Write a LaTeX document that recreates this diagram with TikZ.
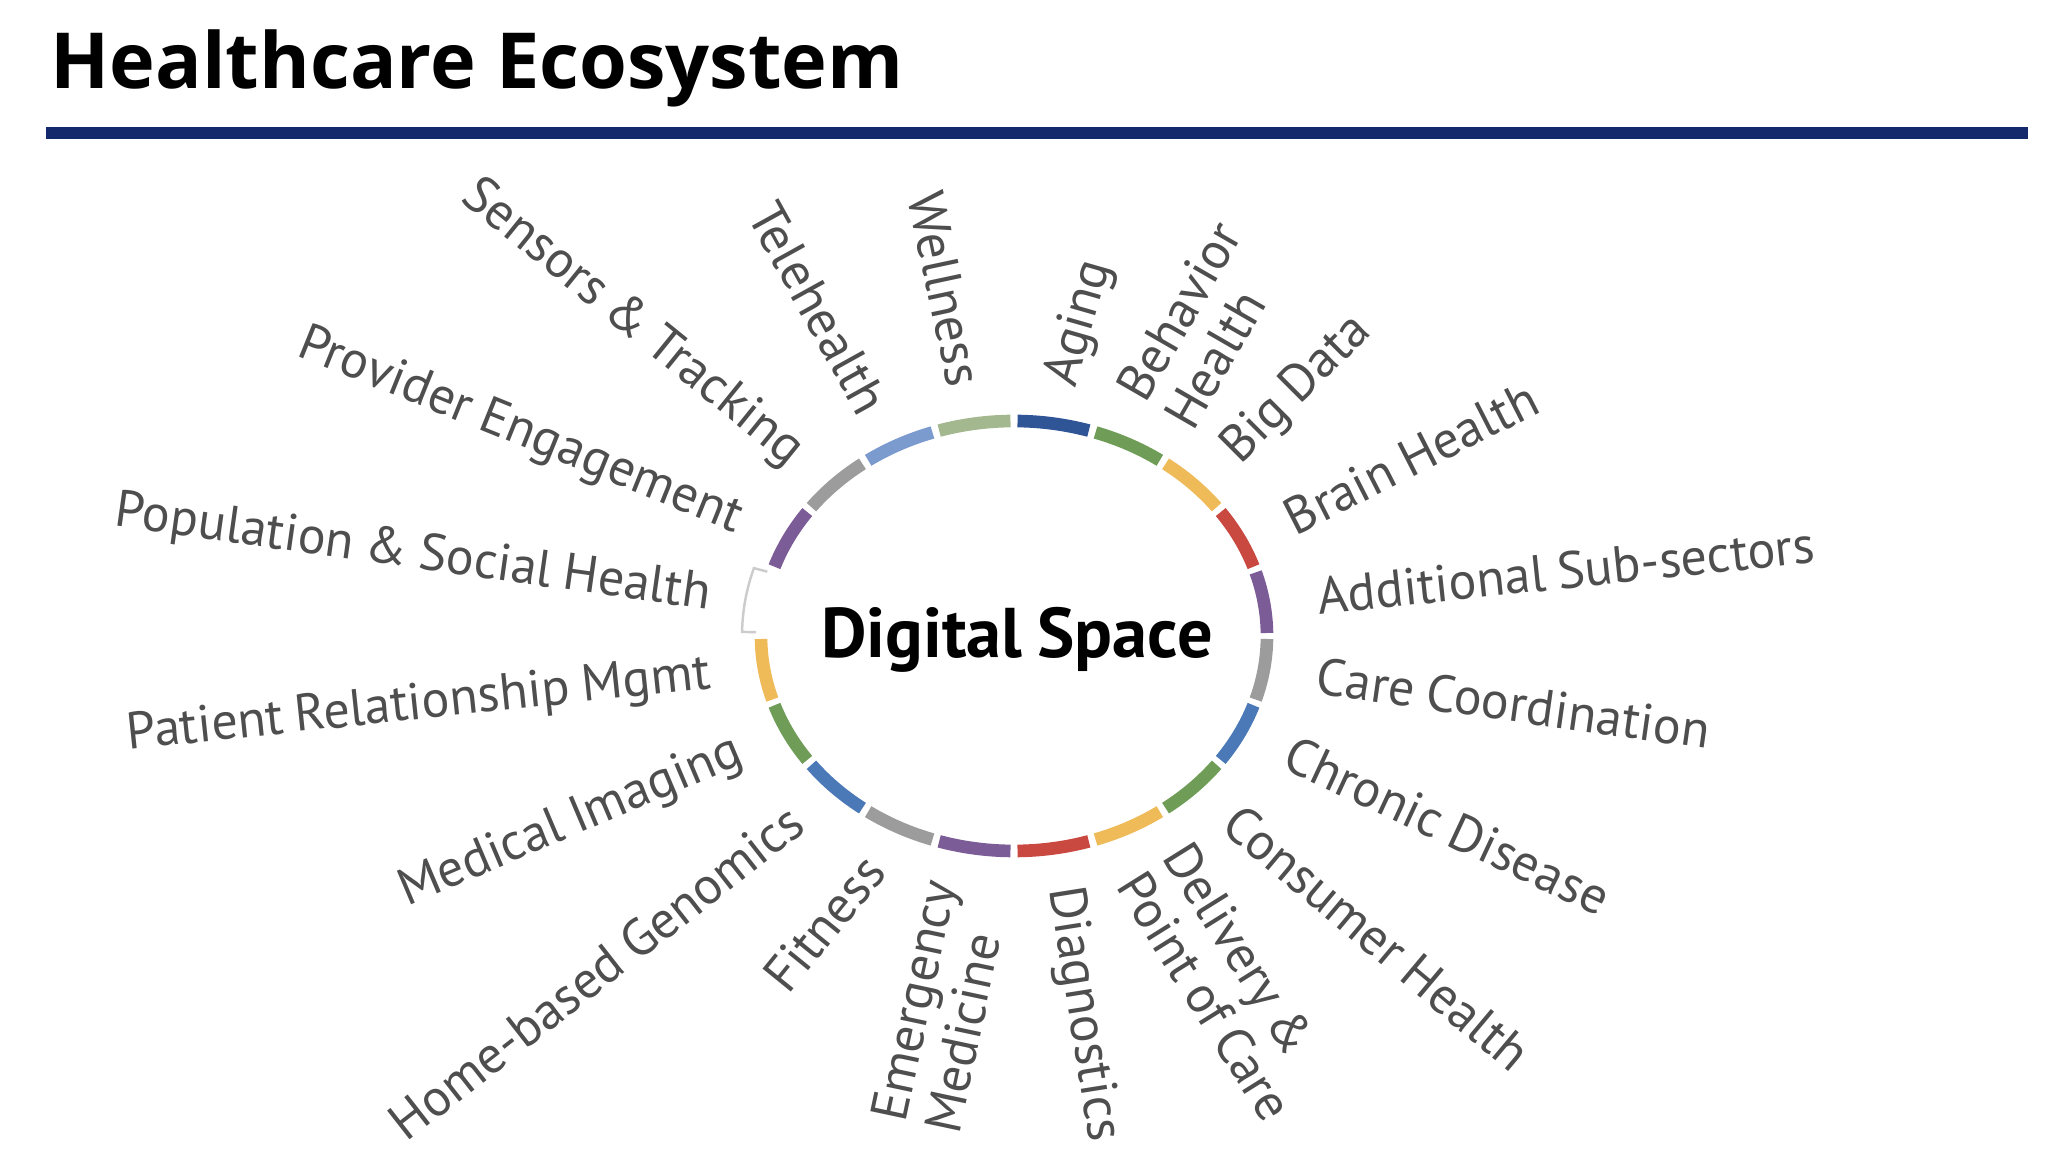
\documentclass[tikz,border=0pt]{standalone}
\usepackage{fontspec}
\setmainfont{PT Sans}[WordSpace=0.85]
\newfontfamily\headfont{Open Sans}
\usepackage{xcolor}
\usepackage{tikz}
\usetikzlibrary{calc}

\definecolor{rulenavy}{HTML}{13296B}
\definecolor{labelgray}{HTML}{4E4E4E}
\definecolor{ringpurple}{HTML}{7C5C96}
\definecolor{ringred}{HTML}{C9483F}
\definecolor{ringyellow}{HTML}{EFBA58}
\definecolor{ringgreen}{HTML}{6F9D58}
\definecolor{ringnavy}{HTML}{2F5596}
\definecolor{ringsage}{HTML}{A3B88E}
\definecolor{ringsky}{HTML}{7B9BCF}
\definecolor{ringblue}{HTML}{4B78B6}
\definecolor{ringgray}{HTML}{9C9C9C}

\begin{document}
\begin{tikzpicture}
  [ x=0.01cm, y=0.01cm,
    lbl/.style={text=labelgray, inner sep=1pt, align=left,
      font=\fontsize{14.8}{15.6}\selectfont},
    outl/.style={lbl, anchor=west},
    inl/.style={lbl, anchor=east},
    seg/.style={line width=3.6pt}
  ]
  \useasboundingbox (0,0) rectangle (2048,1152);
  \coordinate (c) at (1014,516);

  % heading and rule
  \node (title) at (50,1063) [anchor=base west, inner sep=0pt]
    {\headfont\bfseries\fontsize{22}{26}\selectfont Healthcare Ecosystem};
  \coordinate (rulel) at (46,1019);
  \coordinate (ruler) at (2028,1019);
  \draw [rulenavy, line width=3.2pt] (rulel) -- (ruler);

  % the ring, 20 pieces of 18 degrees
  \draw [seg, ringpurple] ([shift={(0.8:253 and 215)}]c) arc[start angle=0.8, end angle=17.2, x radius=253, y radius=215];
  \draw [seg, ringred]    ([shift={(18.8:253 and 215)}]c) arc[start angle=18.8, end angle=35.2, x radius=253, y radius=215];
  \draw [seg, ringyellow] ([shift={(36.8:253 and 215)}]c) arc[start angle=36.8, end angle=53.2, x radius=253, y radius=215];
  \draw [seg, ringgreen]  ([shift={(54.8:253 and 215)}]c) arc[start angle=54.8, end angle=71.2, x radius=253, y radius=215];
  \draw [seg, ringnavy]   ([shift={(72.8:253 and 215)}]c) arc[start angle=72.8, end angle=89.2, x radius=253, y radius=215];
  \draw [seg, ringsage]   ([shift={(90.8:253 and 215)}]c) arc[start angle=90.8, end angle=107.2, x radius=253, y radius=215];
  \draw [seg, ringsky]    ([shift={(108.8:253 and 215)}]c) arc[start angle=108.8, end angle=125.2, x radius=253, y radius=215];
  \draw [seg, ringgray]   ([shift={(126.8:253 and 215)}]c) arc[start angle=126.8, end angle=143.2, x radius=253, y radius=215];
  \draw [seg, ringpurple] ([shift={(144.8:253 and 215)}]c) arc[start angle=144.8, end angle=161.2, x radius=253, y radius=215];
  \draw [gray!40, line width=0.7pt] ([shift={(163:258 and 220)}]c) -- ([shift={(163:272 and 232)}]c)
    arc[start angle=163, end angle=179, x radius=272, y radius=232] -- ([shift={(179:258 and 220)}]c);
  \draw [seg, ringyellow] ([shift={(180.8:253 and 215)}]c) arc[start angle=180.8, end angle=197.2, x radius=253, y radius=215];
  \draw [seg, ringgreen]  ([shift={(198.8:253 and 215)}]c) arc[start angle=198.8, end angle=215.2, x radius=253, y radius=215];
  \draw [seg, ringblue]   ([shift={(216.8:253 and 215)}]c) arc[start angle=216.8, end angle=233.2, x radius=253, y radius=215];
  \draw [seg, ringgray]   ([shift={(234.8:253 and 215)}]c) arc[start angle=234.8, end angle=251.2, x radius=253, y radius=215];
  \draw [seg, ringpurple] ([shift={(252.8:253 and 215)}]c) arc[start angle=252.8, end angle=269.2, x radius=253, y radius=215];
  \draw [seg, ringred]    ([shift={(270.8:253 and 215)}]c) arc[start angle=270.8, end angle=287.2, x radius=253, y radius=215];
  \draw [seg, ringyellow] ([shift={(288.8:253 and 215)}]c) arc[start angle=288.8, end angle=305.2, x radius=253, y radius=215];
  \draw [seg, ringgreen]  ([shift={(306.8:253 and 215)}]c) arc[start angle=306.8, end angle=323.2, x radius=253, y radius=215];
  \draw [seg, ringblue]   ([shift={(324.8:253 and 215)}]c) arc[start angle=324.8, end angle=341.2, x radius=253, y radius=215];
  \draw [seg, ringgray]   ([shift={(342.8:253 and 215)}]c) arc[start angle=342.8, end angle=359.2, x radius=253, y radius=215];

  \node (digital) at ($(c)+(3,-4)$)
    {\bfseries\fontsize{20}{23}\selectfont Digital Space};

  % labels round the ring
  \node (additional)  at ($(c)+(9:303 and 250)$)   [outl, rotate=6]   {Additional Sub-sectors};
  \node (brain)       at ($(c)+(27:303 and 250)$)  [outl, rotate=27]  {Brain Health};
  \node (bigdata)     at ($(c)+(45:303 and 250)$)  [outl, rotate=45]  {Big Data};
  \node (behavior)    at ($(c)+(63:303 and 250)$)  [outl, rotate=60]  {Behavior\\Health};
  \node (aging)       at ($(c)+(81:303 and 250)$)  [outl, rotate=74]  {Aging};
  \node (wellness)    at ($(c)+(99:303 and 250)$)  [inl, rotate=-78]  {Wellness};
  \node (telehealth)  at ($(c)+(117:303 and 250)$) [inl, rotate=-61]  {Telehealth};
  \node (sensors)     at ($(c)+(135:303 and 250)$) [inl, rotate=-39]  {Sensors \& Tracking};
  \node (provider)    at ($(c)+(153:303 and 250)$) [inl, rotate=-22]  {Provider Engagement};
  \node (population)  at ($(c)+(171:303 and 250)$) [inl, rotate=-8]   {Population \& Social Health};
  \node (patient)     at ($(c)+(189:303 and 250)$) [inl, rotate=6]    {Patient Relationship Mgmt};
  \node (imaging)     at ($(c)+(207:303 and 250)$) [inl, rotate=23]   {Medical Imaging};
  \node (genomics)    at ($(c)+(225:303 and 250)$) [inl, rotate=38]   {Home-based Genomics};
  \node (fitness)     at ($(c)+(243:303 and 250)$) [inl, rotate=51]   {Fitness};
  \node (emergency)   at ($(c)+(261:303 and 250)$) [inl, rotate=78]   {Emergency\\Medicine};
  \node (diagnostics) at ($(c)+(279:303 and 250)$) [outl, rotate=-81] {Diagnostics};
  \node (delivery)    at ($(c)+(297:303 and 250)$) [outl, rotate=-58] {Delivery \&\\Point of Care};
  \node (consumer)    at ($(c)+(315:303 and 250)$) [outl, rotate=-40] {Consumer Health};
  \node (chronic)     at ($(c)+(333:303 and 250)$) [outl, rotate=-25] {Chronic Disease};
  \node (care)        at ($(c)+(351:303 and 250)$) [outl, rotate=-8]  {Care Coordination};
\end{tikzpicture}
\end{document}
